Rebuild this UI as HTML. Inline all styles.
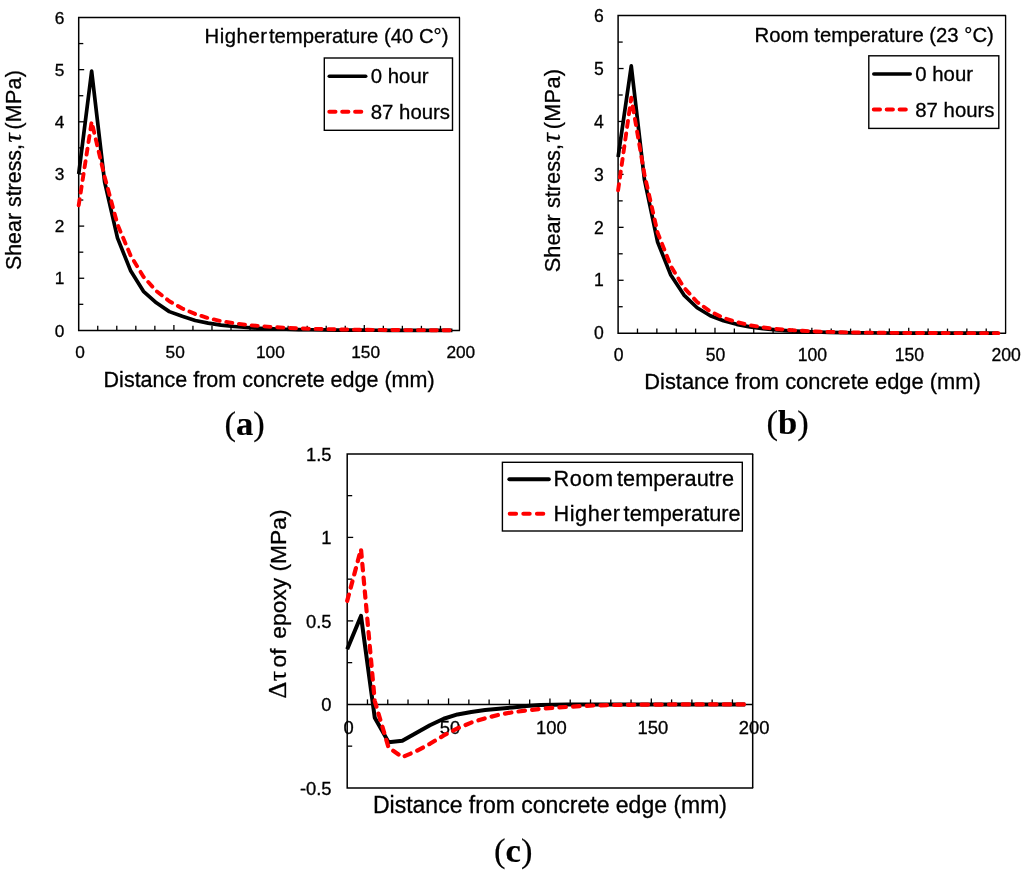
<!DOCTYPE html>
<html><head><meta charset="utf-8"><title>Figure</title>
<style>
html,body{margin:0;padding:0;background:#fff;}
svg{display:block;}
svg text{font-family:"Liberation Sans", sans-serif;fill:#000;stroke:#000;stroke-width:0.3px;}
svg text.sub{font-family:"Liberation Serif", serif;font-size:34.6px;stroke-width:0.2px;}
svg .tau{font-family:"Liberation Serif", serif;}
</style></head><body>
<svg width="1024" height="877" viewBox="0 0 1024 877">
<rect width="1024" height="877" fill="#fff"/>
<rect x="78.7" y="17.5" width="380.8" height="312.9" fill="#fff" stroke="none"/>
<path d="M459.5 17.5V330.4" fill="none" stroke="#000" stroke-width="1.35"/>
<path d="M460.0 17.5H78.7V330.4H460.0" fill="none" stroke="#000" stroke-width="1.5" stroke-linejoin="miter"/>
<line x1="97.74" y1="330.4" x2="97.74" y2="325.8" stroke="#000" stroke-width="1.3"/>
<line x1="116.78" y1="330.4" x2="116.78" y2="325.8" stroke="#000" stroke-width="1.3"/>
<line x1="135.82" y1="330.4" x2="135.82" y2="325.8" stroke="#000" stroke-width="1.3"/>
<line x1="154.86" y1="330.4" x2="154.86" y2="325.8" stroke="#000" stroke-width="1.3"/>
<line x1="173.90" y1="330.4" x2="173.90" y2="324.9" stroke="#000" stroke-width="1.3"/>
<line x1="192.94" y1="330.4" x2="192.94" y2="325.8" stroke="#000" stroke-width="1.3"/>
<line x1="211.98" y1="330.4" x2="211.98" y2="325.8" stroke="#000" stroke-width="1.3"/>
<line x1="231.02" y1="330.4" x2="231.02" y2="325.8" stroke="#000" stroke-width="1.3"/>
<line x1="250.06" y1="330.4" x2="250.06" y2="325.8" stroke="#000" stroke-width="1.3"/>
<line x1="269.10" y1="330.4" x2="269.10" y2="324.9" stroke="#000" stroke-width="1.3"/>
<line x1="288.14" y1="330.4" x2="288.14" y2="325.8" stroke="#000" stroke-width="1.3"/>
<line x1="307.18" y1="330.4" x2="307.18" y2="325.8" stroke="#000" stroke-width="1.3"/>
<line x1="326.22" y1="330.4" x2="326.22" y2="325.8" stroke="#000" stroke-width="1.3"/>
<line x1="345.26" y1="330.4" x2="345.26" y2="325.8" stroke="#000" stroke-width="1.3"/>
<line x1="364.30" y1="330.4" x2="364.30" y2="324.9" stroke="#000" stroke-width="1.3"/>
<line x1="383.34" y1="330.4" x2="383.34" y2="325.8" stroke="#000" stroke-width="1.3"/>
<line x1="402.38" y1="330.4" x2="402.38" y2="325.8" stroke="#000" stroke-width="1.3"/>
<line x1="421.42" y1="330.4" x2="421.42" y2="325.8" stroke="#000" stroke-width="1.3"/>
<line x1="440.46" y1="330.4" x2="440.46" y2="325.8" stroke="#000" stroke-width="1.3"/>
<line x1="78.7" y1="304.32" x2="83.3" y2="304.32" stroke="#000" stroke-width="1.3"/>
<line x1="78.7" y1="278.25" x2="84.2" y2="278.25" stroke="#000" stroke-width="1.3"/>
<line x1="78.7" y1="252.17" x2="83.3" y2="252.17" stroke="#000" stroke-width="1.3"/>
<line x1="78.7" y1="226.10" x2="84.2" y2="226.10" stroke="#000" stroke-width="1.3"/>
<line x1="78.7" y1="200.02" x2="83.3" y2="200.02" stroke="#000" stroke-width="1.3"/>
<line x1="78.7" y1="173.95" x2="84.2" y2="173.95" stroke="#000" stroke-width="1.3"/>
<line x1="78.7" y1="147.88" x2="83.3" y2="147.88" stroke="#000" stroke-width="1.3"/>
<line x1="78.7" y1="121.80" x2="84.2" y2="121.80" stroke="#000" stroke-width="1.3"/>
<line x1="78.7" y1="95.72" x2="83.3" y2="95.72" stroke="#000" stroke-width="1.3"/>
<line x1="78.7" y1="69.65" x2="84.2" y2="69.65" stroke="#000" stroke-width="1.3"/>
<line x1="78.7" y1="43.57" x2="83.3" y2="43.57" stroke="#000" stroke-width="1.3"/>
<text x="80.00" y="357.7" text-anchor="middle" font-size="17.30">0</text>
<text x="175.20" y="357.7" text-anchor="middle" font-size="17.30">50</text>
<text x="270.40" y="357.7" text-anchor="middle" font-size="17.30">100</text>
<text x="365.60" y="357.7" text-anchor="middle" font-size="17.30">150</text>
<text x="460.80" y="357.7" text-anchor="middle" font-size="17.30">200</text>
<text x="64.4" y="336.60" text-anchor="end" font-size="17.30">0</text>
<text x="64.4" y="284.45" text-anchor="end" font-size="17.30">1</text>
<text x="64.4" y="232.30" text-anchor="end" font-size="17.30">2</text>
<text x="64.4" y="180.15" text-anchor="end" font-size="17.30">3</text>
<text x="64.4" y="128.00" text-anchor="end" font-size="17.30">4</text>
<text x="64.4" y="75.85" text-anchor="end" font-size="17.30">5</text>
<text x="64.4" y="23.70" text-anchor="end" font-size="17.30">6</text>
<polyline points="78.70,173.95 91.65,71.21 104.59,181.77 117.54,238.09 130.49,270.43 143.44,291.29 156.38,302.76 169.33,311.63 182.28,316.32 195.22,320.49 208.17,323.10 221.12,325.19 234.07,326.49 247.01,327.53 259.96,328.31 272.91,328.84 285.86,329.25 298.80,329.57 311.75,329.77 324.70,329.93 337.64,330.03 350.59,330.14 363.54,330.19 376.49,330.24 389.43,330.30 402.38,330.30 415.33,330.35 428.27,330.35 441.22,330.35 452.46,330.35" fill="none" stroke="#000" stroke-width="3.7" stroke-linejoin="round"/>
<polyline points="78.70,205.24 91.65,121.80 104.59,176.56 117.54,224.54 130.49,255.30 143.44,276.69 156.38,291.03 169.33,301.20 182.28,308.50 195.22,313.97 208.17,318.14 221.12,321.12 234.07,323.20 247.01,324.92 259.96,326.12 272.91,327.01 285.86,327.79 298.80,328.31 311.75,328.84 324.70,329.10 337.64,329.36 350.59,329.62 363.54,329.77 376.49,329.88 389.43,329.98 402.38,330.09 415.33,330.14 428.27,330.19 441.22,330.24 452.46,330.24" fill="none" stroke="#f00" stroke-width="3.9" stroke-dasharray="6.1 6.7" stroke-linecap="round" stroke-linejoin="round"/>
<text x="448.4" y="43.3" text-anchor="end" font-size="20.3"><tspan letter-spacing="0.55">Higher</tspan><tspan dx="-4.2"> temperature (40 C°)</tspan></text>
<rect x="324.3" y="58" width="128.2" height="72.3" fill="#fff" stroke="#000" stroke-width="1.4"/>
<line x1="329.3" y1="76.2" x2="365.7" y2="76.2" stroke="#000" stroke-width="3.6" stroke-linecap="round"/>
<line x1="329.3" y1="111.8" x2="361.8" y2="111.8" stroke="#f00" stroke-width="4" stroke-dasharray="6.2 6.7" stroke-linecap="round"/>
<text x="370.8" y="83.1" font-size="20.35">0 hour</text>
<text x="370.8" y="118.7" font-size="20.35">87 hours</text>
<text x="269.1" y="386.9" text-anchor="middle" font-size="21.50">Distance from concrete edge (mm)</text>
<text transform="translate(20.9,169.95) rotate(-90)" text-anchor="middle" font-size="21.40">Shear stress,<tspan class="tau" font-style="italic" dx="1.5" font-size="26.00">τ</tspan><tspan dx="-2.6" letter-spacing="0.3"> (MPa)</tspan></text>
<text x="244.7" y="434.8" text-anchor="middle" class="sub">(<tspan font-weight="bold">a</tspan>)</text>
<rect x="618.1" y="15.6" width="387.5" height="317.6" fill="#fff" stroke="none"/>
<path d="M1005.6 15.6V333.2" fill="none" stroke="#000" stroke-width="1.35"/>
<path d="M1006.1 15.6H618.1V333.2H1006.1" fill="none" stroke="#000" stroke-width="1.5" stroke-linejoin="miter"/>
<line x1="637.48" y1="333.2" x2="637.48" y2="328.6" stroke="#000" stroke-width="1.3"/>
<line x1="656.85" y1="333.2" x2="656.85" y2="328.6" stroke="#000" stroke-width="1.3"/>
<line x1="676.23" y1="333.2" x2="676.23" y2="328.6" stroke="#000" stroke-width="1.3"/>
<line x1="695.60" y1="333.2" x2="695.60" y2="328.6" stroke="#000" stroke-width="1.3"/>
<line x1="714.98" y1="333.2" x2="714.98" y2="327.7" stroke="#000" stroke-width="1.3"/>
<line x1="734.35" y1="333.2" x2="734.35" y2="328.6" stroke="#000" stroke-width="1.3"/>
<line x1="753.73" y1="333.2" x2="753.73" y2="328.6" stroke="#000" stroke-width="1.3"/>
<line x1="773.10" y1="333.2" x2="773.10" y2="328.6" stroke="#000" stroke-width="1.3"/>
<line x1="792.48" y1="333.2" x2="792.48" y2="328.6" stroke="#000" stroke-width="1.3"/>
<line x1="811.85" y1="333.2" x2="811.85" y2="327.7" stroke="#000" stroke-width="1.3"/>
<line x1="831.23" y1="333.2" x2="831.23" y2="328.6" stroke="#000" stroke-width="1.3"/>
<line x1="850.60" y1="333.2" x2="850.60" y2="328.6" stroke="#000" stroke-width="1.3"/>
<line x1="869.98" y1="333.2" x2="869.98" y2="328.6" stroke="#000" stroke-width="1.3"/>
<line x1="889.35" y1="333.2" x2="889.35" y2="328.6" stroke="#000" stroke-width="1.3"/>
<line x1="908.73" y1="333.2" x2="908.73" y2="327.7" stroke="#000" stroke-width="1.3"/>
<line x1="928.10" y1="333.2" x2="928.10" y2="328.6" stroke="#000" stroke-width="1.3"/>
<line x1="947.48" y1="333.2" x2="947.48" y2="328.6" stroke="#000" stroke-width="1.3"/>
<line x1="966.85" y1="333.2" x2="966.85" y2="328.6" stroke="#000" stroke-width="1.3"/>
<line x1="986.23" y1="333.2" x2="986.23" y2="328.6" stroke="#000" stroke-width="1.3"/>
<line x1="618.1" y1="306.73" x2="622.7" y2="306.73" stroke="#000" stroke-width="1.3"/>
<line x1="618.1" y1="280.27" x2="623.6" y2="280.27" stroke="#000" stroke-width="1.3"/>
<line x1="618.1" y1="253.80" x2="622.7" y2="253.80" stroke="#000" stroke-width="1.3"/>
<line x1="618.1" y1="227.33" x2="623.6" y2="227.33" stroke="#000" stroke-width="1.3"/>
<line x1="618.1" y1="200.87" x2="622.7" y2="200.87" stroke="#000" stroke-width="1.3"/>
<line x1="618.1" y1="174.40" x2="623.6" y2="174.40" stroke="#000" stroke-width="1.3"/>
<line x1="618.1" y1="147.93" x2="622.7" y2="147.93" stroke="#000" stroke-width="1.3"/>
<line x1="618.1" y1="121.47" x2="623.6" y2="121.47" stroke="#000" stroke-width="1.3"/>
<line x1="618.1" y1="95.00" x2="622.7" y2="95.00" stroke="#000" stroke-width="1.3"/>
<line x1="618.1" y1="68.53" x2="623.6" y2="68.53" stroke="#000" stroke-width="1.3"/>
<line x1="618.1" y1="42.07" x2="622.7" y2="42.07" stroke="#000" stroke-width="1.3"/>
<text x="618.70" y="360.5" text-anchor="middle" font-size="17.59">0</text>
<text x="715.58" y="360.5" text-anchor="middle" font-size="17.59">50</text>
<text x="812.45" y="360.5" text-anchor="middle" font-size="17.59">100</text>
<text x="909.33" y="360.5" text-anchor="middle" font-size="17.59">150</text>
<text x="1006.20" y="360.5" text-anchor="middle" font-size="17.59">200</text>
<text x="603.8" y="339.40" text-anchor="end" font-size="17.59">0</text>
<text x="603.8" y="286.47" text-anchor="end" font-size="17.59">1</text>
<text x="603.8" y="233.53" text-anchor="end" font-size="17.59">2</text>
<text x="603.8" y="180.60" text-anchor="end" font-size="17.59">3</text>
<text x="603.8" y="127.67" text-anchor="end" font-size="17.59">4</text>
<text x="603.8" y="74.73" text-anchor="end" font-size="17.59">5</text>
<text x="603.8" y="21.80" text-anchor="end" font-size="17.59">6</text>
<polyline points="618.10,156.93 631.27,65.89 644.45,179.69 657.62,242.15 670.80,274.97 683.98,295.09 697.15,307.79 710.33,315.73 723.50,320.76 736.68,324.31 749.85,326.85 763.03,328.54 776.20,329.87 789.38,330.82 802.55,331.45 815.73,331.98 828.90,332.35 842.08,332.62 855.25,332.78 868.42,332.88 881.60,332.99 894.77,333.04 907.95,333.09 921.12,333.09 934.30,333.15 947.48,333.15 960.65,333.15 973.83,333.15 987.00,333.15 998.43,333.15" fill="none" stroke="#000" stroke-width="3.7" stroke-linejoin="round"/>
<polyline points="618.10,190.28 631.27,97.65 644.45,174.40 657.62,232.63 670.80,265.97 683.98,287.68 697.15,301.97 710.33,311.50 723.50,317.85 736.68,322.08 749.85,325.26 763.03,327.38 776.20,328.97 789.38,330.02 802.55,330.82 815.73,331.45 828.90,331.88 842.08,332.25 855.25,332.51 868.42,332.67 881.60,332.78 894.77,332.88 907.95,332.94 921.12,332.99 934.30,333.04 947.48,333.09 960.65,333.09 973.83,333.15 987.00,333.15 998.43,333.15" fill="none" stroke="#f00" stroke-width="3.9" stroke-dasharray="6.1 6.7" stroke-linecap="round" stroke-linejoin="round"/>
<text x="993.8" y="42.0" text-anchor="end" font-size="20.3">Room temperature (23 °C)</text>
<rect x="868.8" y="55.8" width="130.0" height="72.6" fill="#fff" stroke="#000" stroke-width="1.4"/>
<line x1="873.8" y1="74.0" x2="910.2" y2="74.0" stroke="#000" stroke-width="3.6" stroke-linecap="round"/>
<line x1="873.8" y1="109.6" x2="906.3" y2="109.6" stroke="#f00" stroke-width="4" stroke-dasharray="6.2 6.7" stroke-linecap="round"/>
<text x="915.3" y="80.9" font-size="20.35">0 hour</text>
<text x="915.3" y="116.5" font-size="20.35">87 hours</text>
<text x="812.5" y="389.1" text-anchor="middle" font-size="21.87">Distance from concrete edge (mm)</text>
<text transform="translate(559.5,170.4) rotate(-90)" text-anchor="middle" font-size="21.76">Shear stress,<tspan class="tau" font-style="italic" dx="1.5" font-size="26.44">τ</tspan><tspan dx="-2.6" letter-spacing="0.3"> (MPa)</tspan></text>
<text x="787.7" y="434.4" text-anchor="middle" class="sub">(<tspan font-weight="bold">b</tspan>)</text>
<path d="M752.7 453.9V787.9" fill="none" stroke="#000" stroke-width="1.5"/>
<path d="M753.2 453.9H347.2V787.9H753.2" fill="none" stroke="#000" stroke-width="1.5"/>
<path d="M347.2 704.4H752.7" fill="none" stroke="#000" stroke-width="1.5"/>
<line x1="367.47" y1="704.4" x2="367.47" y2="699.4" stroke="#000" stroke-width="1.3"/>
<line x1="387.75" y1="704.4" x2="387.75" y2="699.4" stroke="#000" stroke-width="1.3"/>
<line x1="408.02" y1="704.4" x2="408.02" y2="699.4" stroke="#000" stroke-width="1.3"/>
<line x1="428.30" y1="704.4" x2="428.30" y2="699.4" stroke="#000" stroke-width="1.3"/>
<line x1="448.57" y1="704.4" x2="448.57" y2="698.4" stroke="#000" stroke-width="1.3"/>
<line x1="468.85" y1="704.4" x2="468.85" y2="699.4" stroke="#000" stroke-width="1.3"/>
<line x1="489.12" y1="704.4" x2="489.12" y2="699.4" stroke="#000" stroke-width="1.3"/>
<line x1="509.40" y1="704.4" x2="509.40" y2="699.4" stroke="#000" stroke-width="1.3"/>
<line x1="529.67" y1="704.4" x2="529.67" y2="699.4" stroke="#000" stroke-width="1.3"/>
<line x1="549.95" y1="704.4" x2="549.95" y2="698.4" stroke="#000" stroke-width="1.3"/>
<line x1="570.23" y1="704.4" x2="570.23" y2="699.4" stroke="#000" stroke-width="1.3"/>
<line x1="590.50" y1="704.4" x2="590.50" y2="699.4" stroke="#000" stroke-width="1.3"/>
<line x1="610.78" y1="704.4" x2="610.78" y2="699.4" stroke="#000" stroke-width="1.3"/>
<line x1="631.05" y1="704.4" x2="631.05" y2="699.4" stroke="#000" stroke-width="1.3"/>
<line x1="651.33" y1="704.4" x2="651.33" y2="698.4" stroke="#000" stroke-width="1.3"/>
<line x1="671.60" y1="704.4" x2="671.60" y2="699.4" stroke="#000" stroke-width="1.3"/>
<line x1="691.88" y1="704.4" x2="691.88" y2="699.4" stroke="#000" stroke-width="1.3"/>
<line x1="712.15" y1="704.4" x2="712.15" y2="699.4" stroke="#000" stroke-width="1.3"/>
<line x1="732.43" y1="704.4" x2="732.43" y2="699.4" stroke="#000" stroke-width="1.3"/>
<line x1="347.2" y1="746.15" x2="352.2" y2="746.15" stroke="#000" stroke-width="1.3"/>
<line x1="347.2" y1="662.65" x2="352.2" y2="662.65" stroke="#000" stroke-width="1.3"/>
<line x1="347.2" y1="620.90" x2="353.2" y2="620.90" stroke="#000" stroke-width="1.3"/>
<line x1="347.2" y1="579.15" x2="352.2" y2="579.15" stroke="#000" stroke-width="1.3"/>
<line x1="347.2" y1="537.40" x2="353.2" y2="537.40" stroke="#000" stroke-width="1.3"/>
<line x1="347.2" y1="495.65" x2="352.2" y2="495.65" stroke="#000" stroke-width="1.3"/>
<text x="348.70" y="734.1" text-anchor="middle" font-size="18.4">0</text>
<text x="450.07" y="734.1" text-anchor="middle" font-size="18.4">50</text>
<text x="551.45" y="734.1" text-anchor="middle" font-size="18.4">100</text>
<text x="652.83" y="734.1" text-anchor="middle" font-size="18.4">150</text>
<text x="754.20" y="734.1" text-anchor="middle" font-size="18.4">200</text>
<text x="331.6" y="460.50" text-anchor="end" font-size="18.4">1.5</text>
<text x="331.6" y="544.00" text-anchor="end" font-size="18.4">1</text>
<text x="331.6" y="627.50" text-anchor="end" font-size="18.4">0.5</text>
<text x="331.6" y="711.00" text-anchor="end" font-size="18.4">0</text>
<text x="331.6" y="794.50" text-anchor="end" font-size="18.4">-0.5</text>
<polyline points="347.20,649.29 360.99,615.89 374.77,717.76 388.56,742.14 402.35,740.81 416.13,733.12 429.92,725.27 443.71,718.76 457.50,714.42 471.28,711.91 485.07,710.08 498.86,708.74 512.64,707.41 526.43,706.07 540.22,705.07 554.00,704.73 567.79,704.57 581.58,704.40 595.37,704.40 609.15,704.40 622.94,704.40 636.73,704.40 650.51,704.40 664.30,704.40 678.09,704.40 691.88,704.40 705.66,704.40 719.45,704.40 733.24,704.40 745.20,704.40" fill="none" stroke="#000" stroke-width="4" stroke-linejoin="round"/>
<polyline points="347.20,600.86 360.99,549.09 374.77,701.06 388.56,747.49 402.35,757.17 416.13,751.16 429.92,743.81 443.71,735.46 457.50,728.28 471.28,722.60 485.07,718.26 498.86,714.75 512.64,712.25 526.43,710.41 540.22,708.91 554.00,707.74 567.79,706.90 581.58,706.07 595.37,705.40 609.15,705.07 622.94,704.90 636.73,704.73 650.51,704.57 664.30,704.57 678.09,704.40 691.88,704.40 705.66,704.40 719.45,704.40 733.24,704.40 745.20,704.40" fill="none" stroke="#f00" stroke-width="4.2" stroke-dasharray="6.5 7.2" stroke-linecap="round" stroke-linejoin="round"/>
<rect x="502.4" y="462.3" width="239.9" height="68.7" fill="#fff" stroke="#000" stroke-width="1.4"/>
<line x1="509.4" y1="479.2" x2="548.8" y2="479.2" stroke="#000" stroke-width="4.1" stroke-linecap="round"/>
<line x1="509.7" y1="513.8" x2="544.4" y2="513.8" stroke="#f00" stroke-width="4" stroke-dasharray="6.4 7.2" stroke-linecap="round"/>
<text x="553.6" y="486" font-size="21.7"><tspan letter-spacing="0.5">Room</tspan><tspan dx="-2.4"> temperautre</tspan></text>
<text x="553.6" y="521.0" font-size="21.7"><tspan letter-spacing="0.5">Higher</tspan><tspan dx="-2.9"> temperature</tspan></text>
<text x="550" y="812.6" text-anchor="middle" font-size="23">Distance from concrete edge (mm)</text>
<text transform="translate(286,604.0) rotate(-90)" text-anchor="middle" font-size="22.8"><tspan class="tau" font-size="26">Δ<tspan dx="0.6">τ</tspan></tspan><tspan dx="3.2">of</tspan><tspan dx="3.5"> epoxy (MPa)</tspan></text>
<text x="513.3" y="862" text-anchor="middle" class="sub">(<tspan font-weight="bold">c</tspan>)</text>
</svg>
</body></html>
